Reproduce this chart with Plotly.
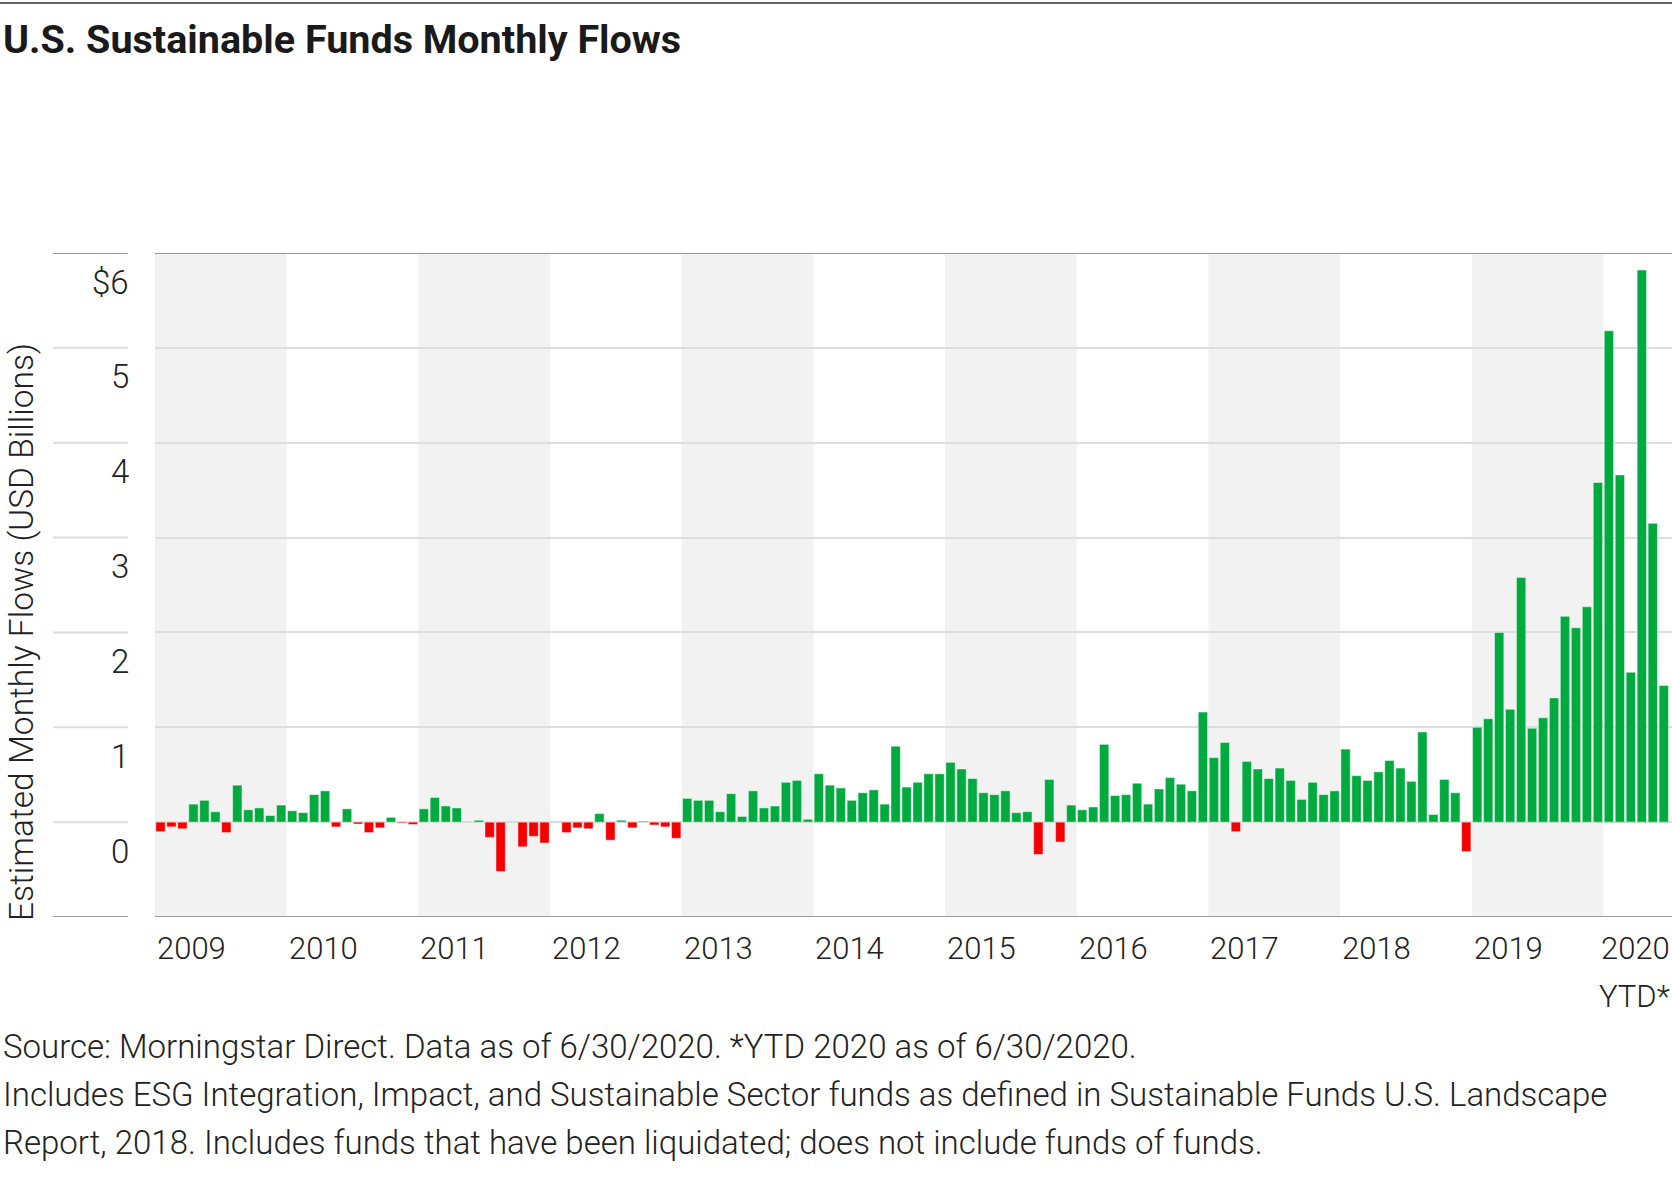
import plotly.graph_objects as go

# ---------------- data (USD billions, monthly) ----------------
years = ["2009", "2010", "2011", "2012", "2013", "2014", "2015", "2016",
         "2017", "2018", "2019", "2020"]
flows_2009 = [-0.10, -0.05, -0.07, 0.19, 0.23, 0.11, -0.11, 0.39, 0.13, 0.15, 0.07, 0.18]
flows_2010 = [0.12, 0.10, 0.29, 0.33, -0.05, 0.14, -0.02, -0.11, -0.06, 0.05, -0.01, -0.025]
flows_2011 = [0.14, 0.26, 0.17, 0.15, 0.005, 0.02, -0.16, -0.52, 0.005, -0.26, -0.15, -0.22]
flows_2012 = [0.005, -0.11, -0.06, -0.07, 0.09, -0.19, 0.02, -0.06, 0.01, -0.03, -0.05, -0.17]
flows_2013 = [0.25, 0.23, 0.23, 0.11, 0.30, 0.06, 0.33, 0.15, 0.17, 0.42, 0.44, 0.03]
flows_2014 = [0.51, 0.39, 0.36, 0.23, 0.31, 0.34, 0.19, 0.80, 0.37, 0.42, 0.51, 0.51]
flows_2015 = [0.63, 0.56, 0.46, 0.31, 0.29, 0.33, 0.10, 0.11, -0.34, 0.45, -0.21, 0.18]
flows_2016 = [0.13, 0.16, 0.82, 0.28, 0.29, 0.41, 0.19, 0.35, 0.47, 0.40, 0.33, 1.16]
flows_2017 = [0.68, 0.84, -0.10, 0.64, 0.56, 0.46, 0.57, 0.44, 0.24, 0.42, 0.29, 0.33]
flows_2018 = [0.77, 0.49, 0.44, 0.53, 0.65, 0.57, 0.43, 0.95, 0.08, 0.45, 0.31, -0.31]
flows_2019 = [1.00, 1.09, 2.00, 1.19, 2.58, 0.99, 1.10, 1.31, 2.17, 2.05, 2.27, 3.58]
flows_2020 = [5.18, 3.66, 1.58, 5.82, 3.15, 1.44]

year_labels = ["2009", "2010", "2011", "2012", "2013", "2014", "2015", "2016",
               "2017", "2018", "2019", "2020"]
ytd_label = "YTD*"
y_tick_vals = [6, 5, 4, 3, 2, 1, 0]
y_tick_text = ["$6", "5", "4", "3", "2", "1", "0"]

title_text = "U.S. Sustainable Funds Monthly Flows"
y_title = "Estimated Monthly Flows (USD Billions)"
notes = [
    "Source: Morningstar Direct. Data as of 6/30/2020. *YTD 2020 as of 6/30/2020.",
    "Includes ESG Integration, Impact, and Sustainable Sector funds as defined in Sustainable Funds U.S. Landscape",
    "Report, 2018. Includes funds that have been liquidated; does not include funds of funds.",
]

# ---------------- build ----------------
flows = (flows_2009 + flows_2010 + flows_2011 + flows_2012 + flows_2013 + flows_2014 +
         flows_2015 + flows_2016 + flows_2017 + flows_2018 + flows_2019 + flows_2020)
x = list(range(len(flows)))
GREEN = "#00AA3E"
RED = "#F50000"
colors = [GREEN if v >= 0 else RED for v in flows]

W, H = 1672, 1196
L, R, T, B = 155, 0, 253, 279
PW, PH = W - L - R, H - T - B

def px_x(p):
    return (p - L) / PW

def px_y(p):
    return (H - B - p) / PH

FONT = "Roboto, Liberation Sans, sans-serif"
TXT = "#222222"

fig = go.Figure()
fig.add_trace(go.Bar(
    x=x, y=flows,
    marker=dict(color=colors, line=dict(color="rgba(255,255,255,0.45)", width=1)),
    hoverinfo="y",
))

shapes = []
# alternating year bands
for k in range(len(years)):
    if k % 2 == 0:
        shapes.append(dict(type="rect", xref="x", yref="y",
                           x0=12 * k - 0.5, x1=12 * k + 11.5, y0=-1, y1=6,
                           fillcolor="#F2F2F2", line=dict(width=0), layer="below"))
# left short grid segments
for v in [6, 5, 4, 3, 2, 1, 0, -1]:
    col = "#9A9A9A" if v in (6, -1) else "#DDDDDD"
    shapes.append(dict(type="line", xref="paper", yref="y",
                       x0=px_x(53), x1=px_x(128), y0=v, y1=v,
                       line=dict(color=col, width=2)))
# darker top / bottom plot lines
for v in [6, -1]:
    shapes.append(dict(type="line", xref="paper", yref="y",
                       x0=0, x1=1, y0=v, y1=v,
                       line=dict(color="#9A9A9A", width=2)))
# top rule
shapes.append(dict(type="line", xref="paper", yref="paper",
                   x0=px_x(0), x1=px_x(W), y0=px_y(3), y1=px_y(3),
                   line=dict(color="#333333", width=1.5)))

ann = []
ann.append(dict(text="<b>" + title_text + "</b>", xref="paper", yref="paper",
                x=px_x(1), y=px_y(39), xanchor="left", yanchor="middle",
                showarrow=False, font=dict(family=FONT, size=39.5, color="#1a1a1a")))
for v, t in zip(y_tick_vals, y_tick_text):
    ann.append(dict(text=t, xref="paper", yref="y", x=px_x(131), y=v,
                    xanchor="right", yanchor="middle", yshift=-29,
                    showarrow=False, font=dict(family=FONT, size=33, color=TXT, weight=300)))
for k, lab in enumerate(year_labels):
    if k == len(year_labels) - 1:
        ann.append(dict(text=lab, xref="paper", yref="paper", x=1.0, y=px_y(948),
                        xanchor="right", yanchor="middle",
                        showarrow=False, font=dict(family=FONT, size=31, color=TXT, weight=300)))
        ann.append(dict(text=ytd_label, xref="paper", yref="paper", x=1.0, y=px_y(996),
                        xanchor="right", yanchor="middle",
                        showarrow=False, font=dict(family=FONT, size=31, color=TXT, weight=300)))
    else:
        ann.append(dict(text=lab, xref="x", yref="paper", x=12 * k - 0.5, y=px_y(948),
                        xanchor="left", yanchor="middle",
                        showarrow=False, font=dict(family=FONT, size=31, color=TXT, weight=300)))
ann.append(dict(text=y_title, xref="paper", yref="paper", x=px_x(21), y=px_y(632),
                xanchor="center", yanchor="middle", textangle=-90,
                showarrow=False, font=dict(family=FONT, size=33.5, color=TXT, weight=300)))
for i, n in enumerate(notes):
    ann.append(dict(text=n, xref="paper", yref="paper", x=px_x(1), y=px_y(1046 + 48 * i),
                    xanchor="left", yanchor="middle",
                    showarrow=False, font=dict(family=FONT, size=33, color=TXT, weight=300)))

fig.update_layout(
    width=W, height=H,
    margin=dict(l=L, r=R, t=T, b=B, pad=0),
    paper_bgcolor="white", plot_bgcolor="white",
    showlegend=False, bargap=0.15,
    shapes=shapes, annotations=ann,
    font=dict(family=FONT, color=TXT),
    xaxis=dict(range=[-0.5, 137.75], showgrid=False, zeroline=False,
               showticklabels=False, ticks="", showline=False, fixedrange=True),
    yaxis=dict(range=[-1, 6], tickvals=[5, 4, 3, 2, 1, 0], showgrid=True,
               gridcolor="#DDDDDD", gridwidth=2, zeroline=False,
               showticklabels=False, ticks="", showline=False, fixedrange=True),
)

fig.write_html("out.html")
